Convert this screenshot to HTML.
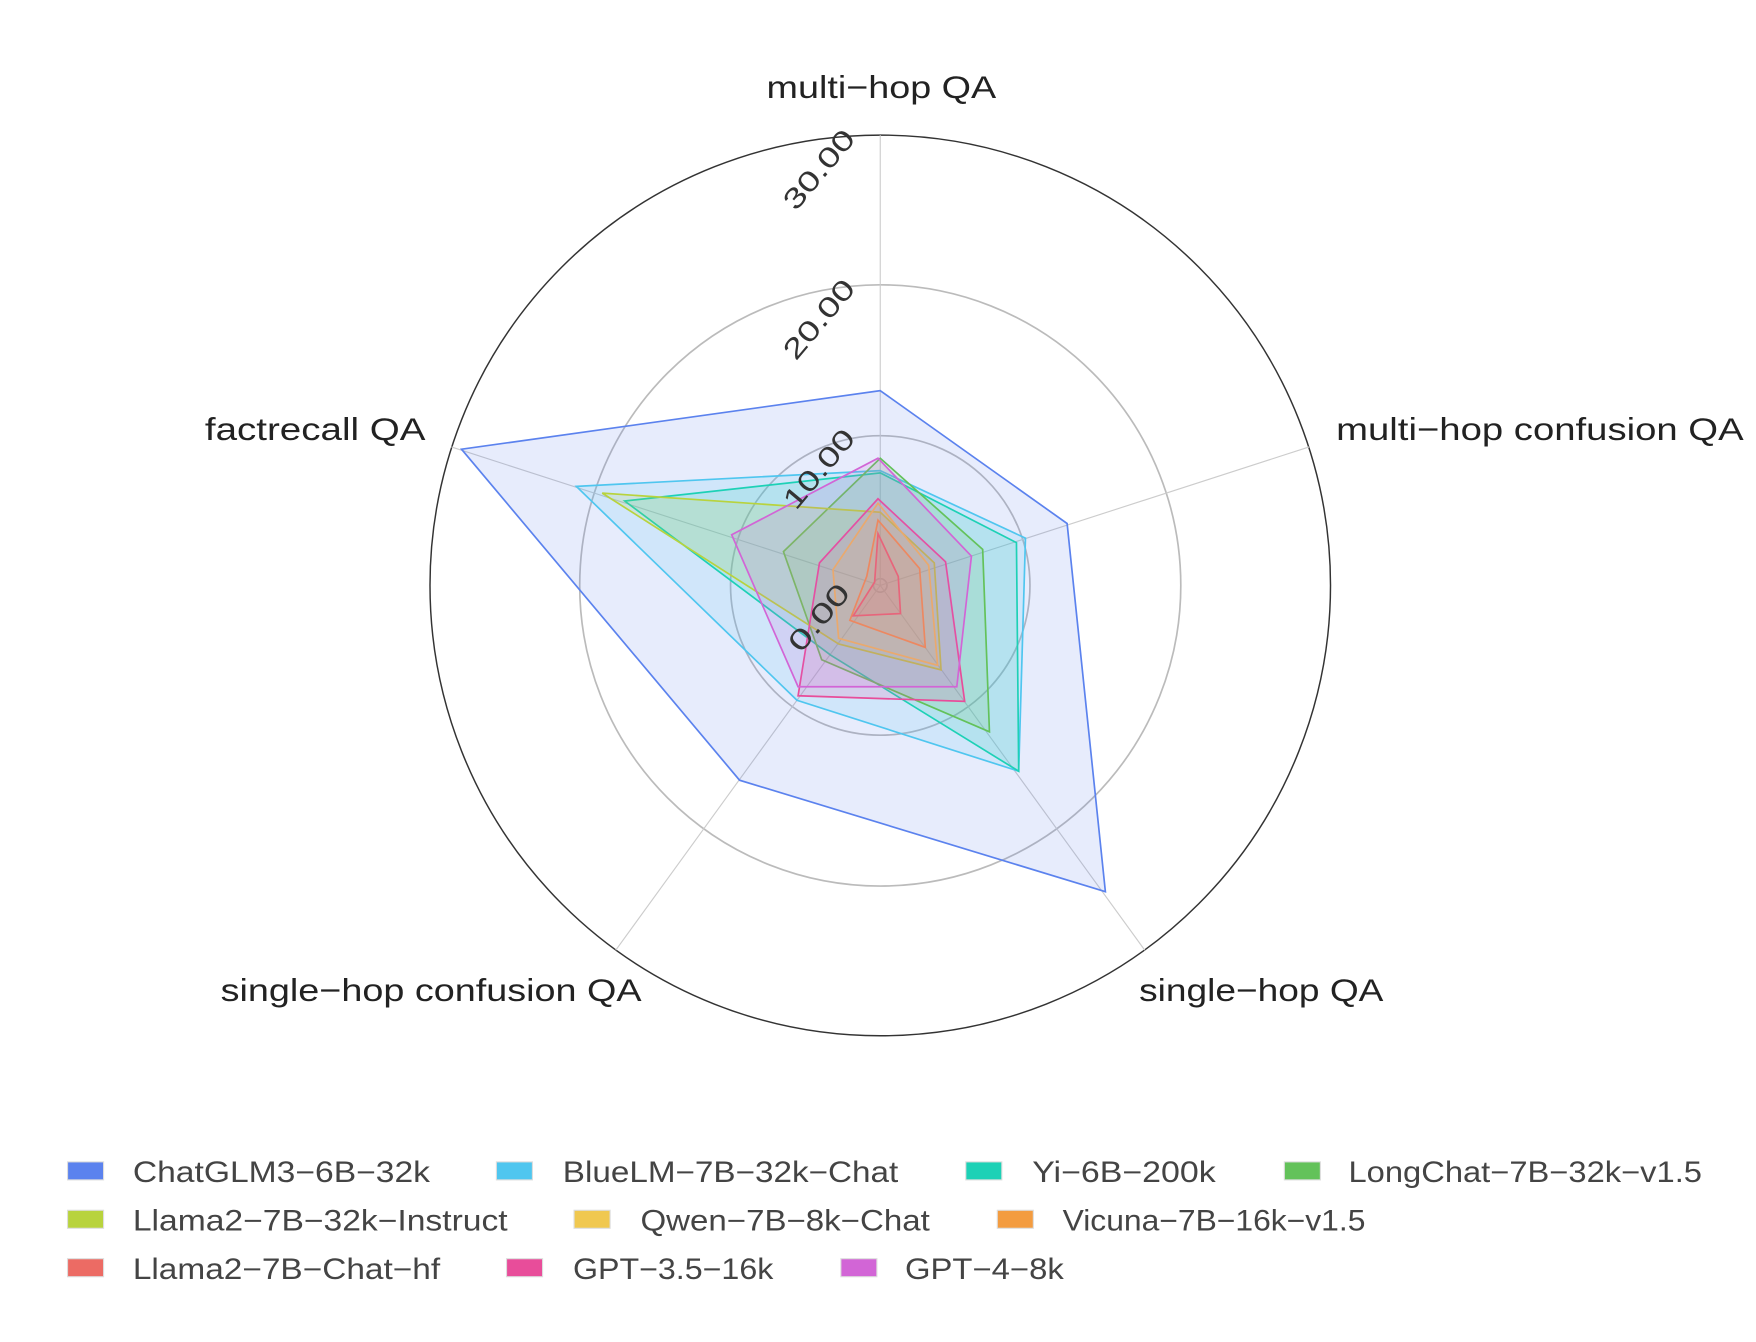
<!DOCTYPE html>
<html><head><meta charset="utf-8"><style>html,body{margin:0;padding:0;background:#fff}svg{display:block}</style></head>
<body>
<svg width="1756" height="1342" viewBox="0 0 1560 1192" preserveAspectRatio="none" xmlns="http://www.w3.org/2000/svg" font-family="'Liberation Sans', sans-serif">
<g fill="none">
<circle cx="782" cy="520" r="400" stroke="#333" stroke-width="1.3"/>
<circle cx="782" cy="520" r="267" stroke="#bbb" stroke-width="1.5"/>
<circle cx="782" cy="520" r="133" stroke="#bbb" stroke-width="1.5"/>
<circle cx="782" cy="520" r="6" stroke="#bbb" stroke-width="1.5"/>
<g stroke="#ccc" stroke-width="1">
<line x1="782" y1="520" x2="782" y2="120"/>
<line x1="782" y1="520" x2="1163" y2="397"/>
<line x1="782" y1="520" x2="1017" y2="844"/>
<line x1="782" y1="520" x2="547" y2="844"/>
<line x1="782" y1="520" x2="401" y2="397"/>
</g>
</g>
<g stroke-width="1.5" fill-opacity="0.15">
<polygon points="782,347 948,465 982,792 657,693 410,399" stroke="#5b82ee" fill="#5b82ee"/>
<polygon points="782,418 911,478 905,685 708,622 512,432" stroke="#4fc6ef" fill="#4fc6ef"/>
<polygon points="782,420 903,482 905,685 738,582 555,445" stroke="#1dd1b6" fill="#1dd1b6"/>
<polygon points="782,407 873,488 879,650 730,586 696,490" stroke="#63c25a" fill="#63c25a"/>
<polygon points="782,455 830,500 836,595 745,572 535,438" stroke="#b8d33d" fill="#b8d33d"/>
<polygon points="780,447 825,502 833,591 745,567 740,506" stroke="#f0c850" fill="#f0c850"/>
<polygon points="780,462 817,505 822,575 755,551 770,512" stroke="#f39c40" fill="#f39c40"/>
<polygon points="780,474 798,512 800,545 758,547 777,517" stroke="#ec6b64" fill="#ec6b64"/>
<polygon points="780,443 840,499 857,623 709,618 728,500" stroke="#e84d9a" fill="#e84d9a"/>
<polygon points="780,407 863,494 850,610 709,610 650,475" stroke="#d265d6" fill="#d265d6"/>
</g>
<g fill="#333" font-size="25">
<text transform="translate(734,554) rotate(-50)" text-anchor="middle" textLength="70" lengthAdjust="spacingAndGlyphs">0.00</text>
<text transform="translate(734,422) rotate(-50)" text-anchor="middle" textLength="84" lengthAdjust="spacingAndGlyphs">10.00</text>
<text transform="translate(734,289) rotate(-50)" text-anchor="middle" textLength="84" lengthAdjust="spacingAndGlyphs">20.00</text>
<text transform="translate(734,156) rotate(-50)" text-anchor="middle" textLength="84" lengthAdjust="spacingAndGlyphs">30.00</text>
</g>
<g fill="#222" font-size="28">
<text x="681" y="87" textLength="204" lengthAdjust="spacingAndGlyphs">multi−hop QA</text>
<text x="1187" y="391" textLength="362" lengthAdjust="spacingAndGlyphs">multi−hop confusion QA</text>
<text x="1012" y="889" textLength="217" lengthAdjust="spacingAndGlyphs">single−hop QA</text>
<text x="196" y="889" textLength="374" lengthAdjust="spacingAndGlyphs">single−hop confusion QA</text>
<text x="182" y="391" textLength="196" lengthAdjust="spacingAndGlyphs">factrecall QA</text>
</g>
<g font-size="26" fill="#444">
<rect x="60" y="1032" width="32" height="16" fill="#5b82ee" stroke="#ddd"/><text x="118" y="1050" textLength="264" lengthAdjust="spacingAndGlyphs">ChatGLM3−6B−32k</text>
<rect x="441" y="1032" width="32" height="16" fill="#4fc6ef" stroke="#ddd"/><text x="500" y="1050" textLength="298" lengthAdjust="spacingAndGlyphs">BlueLM−7B−32k−Chat</text>
<rect x="858" y="1032" width="32" height="16" fill="#1dd1b6" stroke="#ddd"/><text x="917" y="1050" textLength="163" lengthAdjust="spacingAndGlyphs">Yi−6B−200k</text>
<rect x="1141" y="1032" width="32" height="16" fill="#63c25a" stroke="#ddd"/><text x="1198" y="1050" textLength="314" lengthAdjust="spacingAndGlyphs">LongChat−7B−32k−v1.5</text>
<rect x="60" y="1075" width="32" height="16" fill="#b8d33d" stroke="#ddd"/><text x="118" y="1093" textLength="333" lengthAdjust="spacingAndGlyphs">Llama2−7B−32k−Instruct</text>
<rect x="510" y="1075" width="32" height="16" fill="#f0c850" stroke="#ddd"/><text x="569" y="1093" textLength="257" lengthAdjust="spacingAndGlyphs">Qwen−7B−8k−Chat</text>
<rect x="886" y="1075" width="32" height="16" fill="#f39c40" stroke="#ddd"/><text x="944" y="1093" textLength="269" lengthAdjust="spacingAndGlyphs">Vicuna−7B−16k−v1.5</text>
<rect x="60" y="1118" width="32" height="16" fill="#ec6b64" stroke="#ddd"/><text x="118" y="1136" textLength="273" lengthAdjust="spacingAndGlyphs">Llama2−7B−Chat−hf</text>
<rect x="450" y="1118" width="32" height="16" fill="#e84d9a" stroke="#ddd"/><text x="509" y="1136" textLength="178" lengthAdjust="spacingAndGlyphs">GPT−3.5−16k</text>
<rect x="747" y="1118" width="32" height="16" fill="#d265d6" stroke="#ddd"/><text x="804" y="1136" textLength="141" lengthAdjust="spacingAndGlyphs">GPT−4−8k</text>
</g>
</svg>
</body></html>
